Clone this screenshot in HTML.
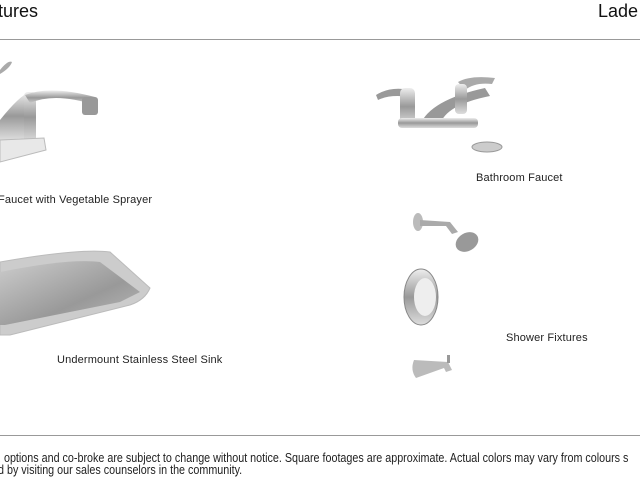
<!DOCTYPE html>
<html><head><meta charset="utf-8"><style>
html,body{margin:0;padding:0;background:#fff;}
body{width:640px;height:480px;position:relative;overflow:hidden;font-family:"Liberation Sans",sans-serif;color:#222;}
.t{position:absolute;white-space:nowrap;}
.l{font-size:11px;letter-spacing:0.15px;}
</style></head><body>
<div class="t" style="left:-2px;top:1px;font-size:18px;color:#111;">tures</div>
<div class="t" style="left:598px;top:1px;font-size:18px;color:#111;">Lade</div>
<div style="position:absolute;left:0;top:39px;width:640px;height:1px;background:#999;"></div>
<div style="position:absolute;left:0;top:435px;width:640px;height:1px;background:#999;"></div>
<div class="t l" style="left:-2px;top:194px;">Faucet with Vegetable Sprayer</div>
<div class="t l" style="left:57px;top:354px;">Undermount Stainless Steel Sink</div>
<div class="t l" style="left:476px;top:172px;">Bathroom Faucet</div>
<div class="t l" style="left:506px;top:332px;">Shower Fixtures</div>
<div class="t" style="left:-2px;top:452px;font-size:12.5px;line-height:12px;transform:scaleX(0.86);transform-origin:0 0;color:#222;">, options and co-broke are subject to change without notice. Square footages are approximate. Actual colors may vary from colours s<br>d by visiting our sales counselors in the community.</div>
<svg width="640" height="480" style="position:absolute;left:0;top:0">
<defs>
<linearGradient id="m" x1="0" y1="0" x2="0" y2="1"><stop offset="0" stop-color="#eee"/><stop offset=".5" stop-color="#999"/><stop offset="1" stop-color="#ddd"/></linearGradient>
<linearGradient id="s" x1="0" y1="0" x2="1" y2="1"><stop offset="0" stop-color="#ccc"/><stop offset=".6" stop-color="#999"/><stop offset="1" stop-color="#bbb"/></linearGradient>
</defs>
<path d="M0 70 Q8 60 12 62 Q10 68 0 74Z" fill="#aaa"/>
<path d="M0 140 L0 120 Q20 95 30 92 L30 138 Z" fill="url(#m)"/>
<rect x="24" y="92" width="12" height="50" rx="4" fill="url(#m)"/>
<path d="M25 95 Q50 85 95 97 L95 105 Q55 92 30 103Z" fill="url(#m)"/>
<rect x="82" y="97" width="16" height="18" rx="3" fill="#999"/>
<path d="M0 140 L44 138 L46 150 L0 162Z" fill="#e8e8e8" stroke="#bbb"/>
<path d="M0 262 Q80 248 110 252 L150 288 Q145 300 130 305 L10 335 L0 335Z" fill="#ccc" stroke="#bbb"/>
<path d="M0 272 Q70 258 100 262 L140 292 L120 302 L5 325 L0 325Z" fill="url(#s)"/>
<path d="M376 95 Q390 86 410 90 L410 97 Q390 94 378 100Z" fill="#999"/>
<rect x="400" y="88" width="15" height="37" rx="5" fill="url(#m)"/>
<path d="M420 125 Q430 100 485 88 L490 96 Q445 105 440 125Z" fill="#999"/>
<path d="M458 82 Q470 75 495 78 L492 84 Q475 82 465 90Z" fill="#aaa"/>
<rect x="455" y="84" width="12" height="30" rx="4" fill="url(#m)"/>
<rect x="398" y="118" width="80" height="10" rx="4" fill="url(#m)"/>
<ellipse cx="487" cy="147" rx="15" ry="5" fill="#ccc" stroke="#999"/>
<ellipse cx="418" cy="222" rx="5" ry="9" fill="#bbb"/>
<path d="M420 220 L450 222 L458 232 L452 234 L446 226 L420 226Z" fill="#aaa"/>
<ellipse cx="467" cy="242" rx="12" ry="9" transform="rotate(-30 467 242)" fill="#999"/>
<ellipse cx="421" cy="297" rx="17" ry="28" fill="url(#m)" stroke="#888"/>
<ellipse cx="425" cy="297" rx="11" ry="19" fill="#eee"/>
<path d="M414 360 L448 362 L452 370 L446 372 L444 368 L416 378 Q410 370 414 360Z" fill="#bbb"/>
<rect x="447" y="355" width="3" height="8" fill="#999"/>
</svg>
</body></html>
